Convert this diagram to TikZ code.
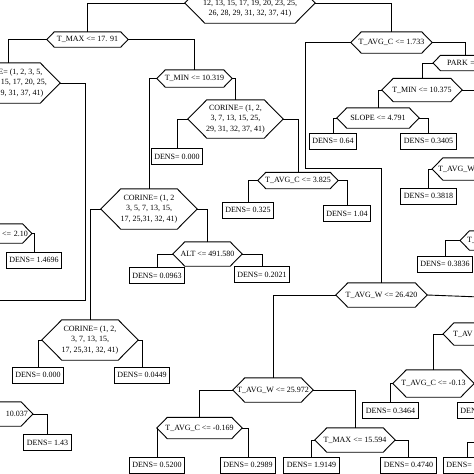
\documentclass[tikz,border=0pt]{standalone}
\usepackage{fontspec}
\setmainfont{Liberation Serif}
\tikzset{
  conn/.style={line width=0.9pt, draw=black},
  hexn/.style={inner xsep=0pt, inner ysep=0pt, align=center, font=\fontsize{8}{10.2}\selectfont},
  densbox/.style={draw, line width=0.9pt, inner xsep=3pt, inner ysep=0pt, minimum height=16pt, font=\fontsize{8}{10.2}\selectfont},
}
\newcommand{\HexNode}[6][]{%
  \node[hexn, minimum width=#4, minimum height=#5, #1] (#2) at (#3) {#6};
  \draw[conn] (#2.west) -- ([xshift=#5/2]#2.north west) -- ([xshift=-#5/2]#2.north east)
    -- (#2.east) -- ([xshift=-#5/2]#2.south east) -- ([xshift=#5/2]#2.south west) -- cycle;
}
\begin{document}
\begin{tikzpicture}[x=1pt,y=-1pt]
\fill[white] (0,0) rectangle (474,474);
\useasboundingbox (0,0) rectangle (474,474);
\clip (0,0) rectangle (474,474);

% hexagon decision nodes
\HexNode{root}{250,3}{130pt}{40pt}{\strut\\12, 13, 15, 17, 19, 20, 23, 25,\\26, 28, 29, 31, 32, 37, 41)}
\HexNode{tmax1}{87.5,39.5}{81pt}{15pt}{T\_MAX <= 17. 91}
\HexNode{corL}{8,83}{104pt}{40pt}{CORINE= (1, 2, 3, 5,\\7, 12, 13, 15, 17, 20, 25,\\26, 28, 29, 31, 37, 41)}
\HexNode{tmin1}{194.5,78.5}{75pt}{17pt}{T\_MIN <= 10.319}
\HexNode{corU}{235.5,119}{95pt}{38pt}{CORINE= (1, 2,\\3, 7, 13, 15, 25,\\29, 31, 32, 37, 41)}
\HexNode{tc2}{298,180.5}{80pt}{16pt}{T\_AVG\_C <= 3.825}
\HexNode{corM}{149,209}{96pt}{40pt}{CORINE= (1, 2\\3, 5, 7, 13, 15,\\17, 25,31, 32, 41)}
\HexNode{alt}{207.5,254}{69pt}{24pt}{ALT <= 491.580}
\HexNode{corB}{90,340}{96pt}{40pt}{CORINE= (1, 2,\\3, 7, 13, 15,\\17, 25,31, 32, 41)}
\HexNode[anchor=east, text width=58pt, align=right, inner xsep=4pt]{hl1}{32,233.5}{66pt}{19pt}{<= 2.10}
\HexNode[anchor=east, text width=60pt, align=right, inner xsep=5pt]{hl2}{33,414}{70pt}{24pt}{10.037}

\HexNode{tc1}{391.5,42.5}{81pt}{21pt}{T\_AVG\_C <= 1.733}
\HexNode[anchor=west, text width=36pt, align=left, inner xsep=14pt]{park}{433,63}{64pt}{15pt}{PARK =}
\HexNode{tm2}{422,90}{80pt}{23pt}{T\_MIN <= 10.375}
\HexNode{slope}{378,118}{82pt}{20pt}{SLOPE <= 4.791}
\HexNode[anchor=west, text width=60pt, align=left, inner xsep=6pt]{twr}{432,169}{72pt}{22pt}{T\_AVG\_W}
\HexNode[anchor=west, text width=40pt, align=left, inner xsep=7pt]{ht}{460,240.5}{54pt}{19pt}{T\_}
\HexNode{tw1}{381.5,295}{91pt}{24pt}{T\_AVG\_W <= 26.420}
\HexNode[anchor=west, text width=50pt, align=left, inner xsep=10pt]{htav}{443,334}{70pt}{22pt}{T\_AV}
\HexNode{tc4}{433.5,383.5}{81pt}{27pt}{T\_AVG\_C <= -0.13}
\HexNode{tw2}{273,390}{80pt}{24pt}{T\_AVG\_W <= 25.972}
\HexNode{tc3}{199.5,428}{85pt}{21pt}{T\_AVG\_C <= -0.169}
\HexNode{tmax2}{355,440}{80pt}{24pt}{T\_MAX <= 15.594}

% leaf boxes
\node[densbox] (d000a) at (177,156.5) {DENS= 0.000};
\node[densbox] (d064) at (333,141) {DENS= 0.64};
\node[densbox] (d3405) at (428.5,141) {DENS= 0.3405};
\node[densbox] (d0325) at (248,210) {DENS= 0.325};
\node[densbox] (d104) at (347,213.5) {DENS= 1.04};
\node[densbox] (d3818) at (428.5,196) {DENS= 0.3818};
\node[densbox] (d14696) at (34,260) {DENS= 1.4696};
\node[densbox] (d3836) at (445,264) {DENS= 0.3836};
\node[densbox] (d0963) at (157,275.5) {DENS= 0.0963};
\node[densbox] (d2021) at (262,274.5) {DENS= 0.2021};
\node[densbox] (d000b) at (38,375) {DENS= 0.000};
\node[densbox] (d0449) at (142,375) {DENS= 0.0449};
\node[densbox] (d3464) at (390.5,410.5) {DENS= 0.3464};
\node[densbox, anchor=west, text width=50pt, align=left] (dr1) at (457,410.5) {DENS=};
\node[densbox] (d143) at (47.5,442.5) {DENS= 1.43};
\node[densbox] (d5200) at (157,465) {DENS= 0.5200};
\node[densbox] (d2989) at (248,465) {DENS= 0.2989};
\node[densbox] (d19149) at (311.5,465) {DENS= 1.9149};
\node[densbox] (d4740) at (408.5,465) {DENS= 0.4740};
\node[densbox, anchor=west, text width=42pt, align=left] (dr2) at (443,465) {DENS=};

% free ends
\coordinate (c1) at (85,300);
\coordinate (c1b) at (-5,300);
\coordinate (bend1) at (305,168);
\coordinate (offa) at (480,90);
\coordinate (offb) at (480,297);
\coordinate (offc) at (480,442);

% connectors
\draw[conn] (root.west) -| (tmax1.north);
\draw[conn] (root.east) -| (tc1.north);
\draw[conn] (tmax1.west) -| (corL.north);
\draw[conn] (tmax1.east) -| (tmin1.north);
\draw[conn] (corL.east) -| (c1) -- (c1b);
\draw[conn] (tmin1.west) -| (corM.north);
\draw[conn] (tmin1.east) -| (corU.north);
\draw[conn] (corU.west) -| (d000a.north);
\draw[conn] (corU.east) -| (tc2.north);
\draw[conn] (tc2.west) -| (d0325.north);
\draw[conn] (tc2.east) -| (d104.north);
\draw[conn] (corM.west) -| (corB.north);
\draw[conn] (corM.east) -| (alt.north);
\draw[conn] (alt.west) -| (d0963.north);
\draw[conn] (alt.east) -| (d2021.north);
\draw[conn] (corB.west) -| (d000b.north);
\draw[conn] (corB.east) -| (d0449.north);
\draw[conn] (hl1.east) -| (d14696.north);
\draw[conn] (hl2.east) -| (d143.north);
\draw[conn] (tc1.west) -| (bend1) -| (tw1.north);
\draw[conn] (tc1.east) -| (park.north);
\draw[conn] (park.west) -| (tm2.north);
\draw[conn] (tm2.east) -- (offa);
\draw[conn] (tm2.west) -| (slope.north);
\draw[conn] (slope.west) -| (d064.north);
\draw[conn] (slope.east) -| (d3405.north);
\draw[conn] (twr.west) -| (d3818.north);
\draw[conn] (ht.west) -| (d3836.north);
\draw[conn] (tw1.west) -| (tw2.north);
\draw[conn] (tw1.east) -- (offb);
\draw[conn] (tw2.west) -| (tc3.north);
\draw[conn] (tw2.east) -| (tmax2.north);
\draw[conn] (tc3.west) -| (d5200.north);
\draw[conn] (tc3.east) -| (d2989.north);
\draw[conn] (tmax2.west) -| (d19149.north);
\draw[conn] (tmax2.east) -| (d4740.north);
\draw[conn] (htav.west) -| (tc4.north);
\draw[conn] (tc4.west) -| (d3464.north);
\draw[conn] (offc) -| (dr2.north);
\end{tikzpicture}
\end{document}
